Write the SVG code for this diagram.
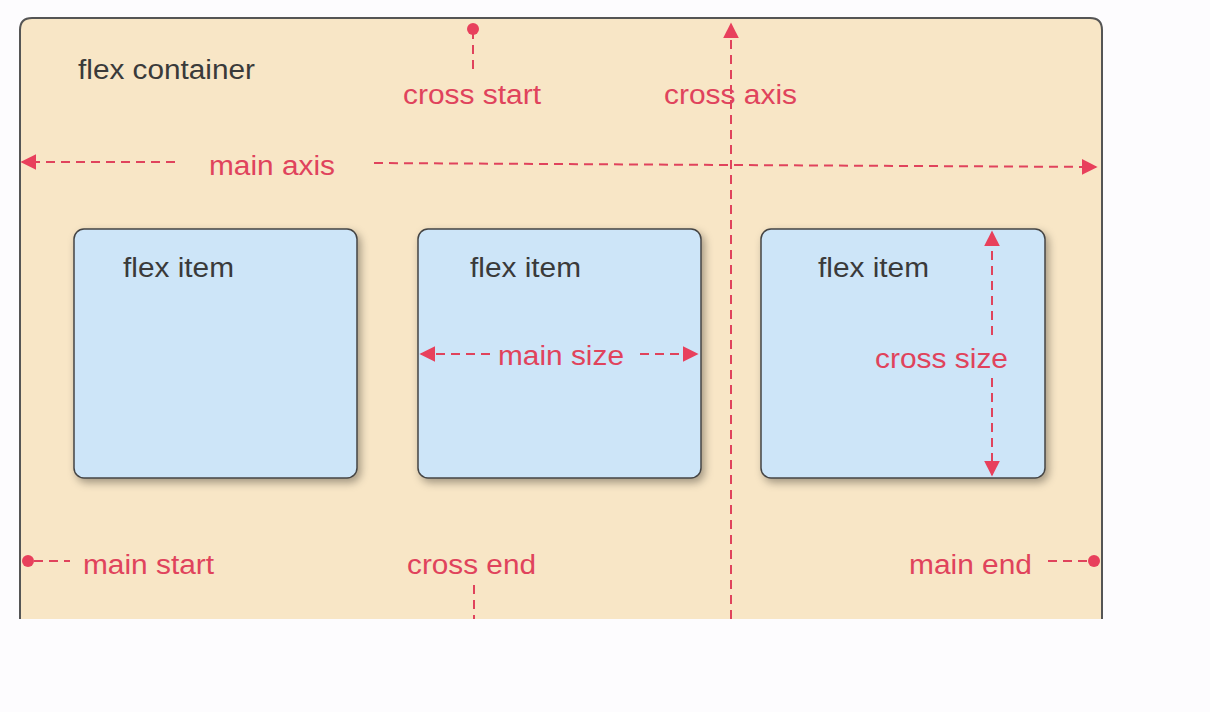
<svg xmlns="http://www.w3.org/2000/svg" width="1210" height="712" viewBox="0 0 1210 712">
<defs>
<style>
.lbl{font-family:"Liberation Sans",Arial,sans-serif;font-size:27px;fill:#e0435c}
.dk{font-family:"Liberation Sans",Arial,sans-serif;font-size:27px;fill:#3a3a3a}
.ln{stroke:#e0435c;stroke-width:2;stroke-dasharray:9,6;fill:none}
.item{fill:#cde5f8;stroke:#444;stroke-width:1.5}
</style>
<marker id="ar" viewBox="0 0 10 10" refX="9" refY="5" markerWidth="8" markerHeight="8" orient="auto-start-reverse"><path d="M0,0 L10,5 L0,10 z" fill="#e8405c"/></marker>
<filter id="sh" x="-10%" y="-10%" width="130%" height="130%"><feDropShadow dx="3" dy="4" stdDeviation="4" flood-color="#000" flood-opacity="0.35"/></filter>
</defs>
<rect width="1210" height="712" fill="#fdfcfe"/>
<g id="container">
<path d="M20,619 V30 Q20,18 32,18 H1090 Q1102,18 1102,30 V619 Z" fill="#f8e6c6"/>
<path d="M20,619 V30 Q20,18 32,18 H1090 Q1102,18 1102,30 V619" fill="none" stroke="#555" stroke-width="2"/>
<text class="dk" x="78" y="79" textLength="177" lengthAdjust="spacingAndGlyphs">flex container</text>
</g>
<g id="item1"><rect class="item" x="74" y="229" width="283" height="249" rx="10" filter="url(#sh)"/><text class="dk" x="123" y="277" textLength="111" lengthAdjust="spacingAndGlyphs">flex item</text></g>
<g id="item2"><rect class="item" x="418" y="229" width="283" height="249" rx="10" filter="url(#sh)"/><text class="dk" x="470" y="277" textLength="111" lengthAdjust="spacingAndGlyphs">flex item</text></g>
<g id="item3"><rect class="item" x="761" y="229" width="284" height="249" rx="10" filter="url(#sh)"/><text class="dk" x="818" y="277" textLength="111" lengthAdjust="spacingAndGlyphs">flex item</text></g>
<g id="connectors">
<line class="ln" x1="473" y1="30" x2="473" y2="72"/>
<circle cx="473" cy="29" r="6" fill="#e8405c"/>
<line class="ln" x1="731" y1="619" x2="731" y2="24" marker-end="url(#ar)"/>
<line class="ln" x1="175" y1="162" x2="22" y2="162" marker-end="url(#ar)"/>
<line class="ln" x1="374" y1="163" x2="1096" y2="167" marker-end="url(#ar)"/>
<line class="ln" x1="490" y1="354" x2="421" y2="354" marker-end="url(#ar)"/>
<line class="ln" x1="640" y1="354" x2="697" y2="354" marker-end="url(#ar)"/>
<line class="ln" x1="992" y1="335" x2="992" y2="232" marker-end="url(#ar)"/>
<line class="ln" x1="992" y1="378" x2="992" y2="475" marker-end="url(#ar)"/>
<line class="ln" x1="34" y1="561" x2="70" y2="561"/>
<circle cx="28" cy="561" r="6" fill="#e8405c"/>
<line class="ln" x1="1048" y1="561" x2="1090" y2="561"/>
<circle cx="1094" cy="561" r="6" fill="#e8405c"/>
<line class="ln" x1="474" y1="585" x2="474" y2="619"/>
</g>
<g id="labels">
<text class="lbl" x="403" y="104" textLength="138" lengthAdjust="spacingAndGlyphs">cross start</text>
<text class="lbl" x="664" y="104" textLength="133" lengthAdjust="spacingAndGlyphs">cross axis</text>
<text class="lbl" x="209" y="175" textLength="126" lengthAdjust="spacingAndGlyphs">main axis</text>
<text class="lbl" x="498" y="365" textLength="126" lengthAdjust="spacingAndGlyphs">main size</text>
<text class="lbl" x="875" y="368" textLength="133" lengthAdjust="spacingAndGlyphs">cross size</text>
<text class="lbl" x="83" y="574" textLength="131" lengthAdjust="spacingAndGlyphs">main start</text>
<text class="lbl" x="407" y="574" textLength="129" lengthAdjust="spacingAndGlyphs">cross end</text>
<text class="lbl" x="909" y="574" textLength="123" lengthAdjust="spacingAndGlyphs">main end</text>
</g>
</svg>
